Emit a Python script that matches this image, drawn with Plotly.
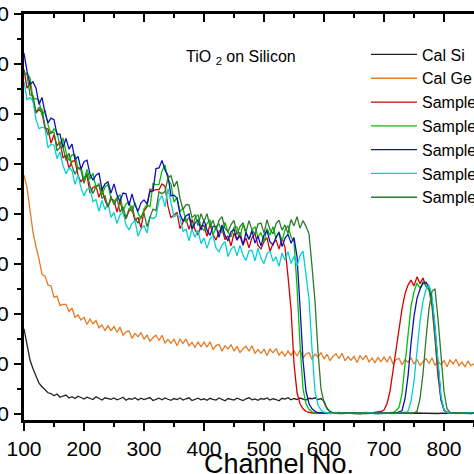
import plotly.graph_objects as go

channels = list(range(100, 851, 5))

cal_si = [
    340, 270, 215, 180, 152, 122, 108, 97, 84, 81,
    72, 79, 66, 71, 75, 63, 68, 61, 70, 65,
    59, 66, 62, 57, 68, 60, 55, 64, 61, 58,
    63, 56, 60, 66, 54, 61, 58, 64, 55, 62,
    57, 60, 65, 53, 59, 62, 56, 63, 58, 54,
    61, 57, 63, 55, 60, 64, 53, 59, 62, 56,
    60, 54, 62, 58, 55, 63, 59, 52, 61, 57,
    55, 62, 58, 53, 60, 64, 56, 59, 54, 61,
    58, 63, 55, 60, 57, 52, 62, 59, 64, 56,
    61, 57, 63, 58, 55, 62, 60, 64, 57, 61,
    50, 22, 8, 4, 2, 3, 1, 2, 3, 2,
    1, 2, 3, 2, 1, 2, 2, 3, 1, 2,
    2, 1, 2, 3, 2, 1, 2, 2, 3, 1,
    2, 3, 1, 2, 2, 1, 3, 2, 1, 2,
    2, 1, 2, 3, 1, 2, 2, 1, 3, 2,
    2,
]

cal_ge = [
    955, 905, 816, 726, 668, 620, 558, 551, 515, 512,
    467, 471, 433, 438, 438, 409, 423, 386, 395, 375,
    386, 357, 379, 360, 373, 344, 355, 333, 352, 333,
    349, 326, 347, 314, 328, 332, 302, 322, 308, 325,
    298, 316, 290, 305, 314, 293, 314, 283, 297, 282,
    298, 272, 298, 282, 299, 272, 286, 266, 287, 269,
    287, 266, 288, 257, 273, 278, 250, 272, 259, 277,
    251, 270, 245, 260, 270, 250, 272, 242, 257, 242,
    258, 233, 259, 244, 261, 235, 249, 230, 251, 234,
    252, 231, 254, 223, 239, 245, 217, 239, 227, 245,
    219, 238, 213, 230, 240, 220, 242, 212, 228, 214,
    230, 205, 232, 217, 234, 208, 223, 204, 225, 209,
    227, 206, 230, 199, 216, 222, 195, 217, 206, 224,
    199, 218, 194, 210, 221, 201, 224, 194, 210, 196,
    213, 188, 215, 200, 218, 192, 207, 188, 210, 193,
    200,
]

sample_1 = [
    1378, 1303, 1321, 1252, 1203, 1217, 1206, 1143, 1140, 1083,
    1117, 1072, 1089, 1024, 1035, 982, 1010, 1013, 954, 928,
    946, 952, 884, 906, 912, 866, 901, 854, 828, 859,
    855, 807, 852, 806, 780, 812, 820, 773, 786, 744,
    811, 829, 899, 893, 897, 897, 920, 911, 830, 784,
    797, 805, 741, 767, 779, 738, 778, 737, 716, 752,
    753, 710, 759, 717, 695, 730, 741, 697, 712, 672,
    723, 694, 727, 677, 703, 664, 705, 721, 674, 660,
    689, 705, 649, 680, 697, 659, 704, 665, 550, 420,
    200, 85, 40, 20, 9, 5, 3, 4, 2, 3,
    2, 4, 1, 3, 2, 5, 2, 1, 3, 2,
    4, 2, 1, 3, 5, 2, 3, 4, 6, 9,
    15, 40, 90, 170, 260, 350, 420, 480, 515, 535,
    512, 548, 521, 543, 509, 497, 430, 300, 150, 55,
    15, 6, 3, 2, 4, 1, 3, 2, 4, 2,
    2,
]

sample_2 = [
    1366, 1362, 1345, 1259, 1262, 1254, 1193, 1216, 1157, 1120,
    1140, 1126, 1068, 1104, 1048, 1013, 1037, 1036, 981, 986,
    936, 978, 939, 963, 904, 922, 875, 908, 917, 863,
    843, 866, 876, 813, 839, 849, 807, 846, 803, 781,
    819, 838, 828, 921, 917, 918, 972, 996, 935, 919,
    847, 866, 809, 824, 766, 787, 744, 783, 797, 748,
    733, 761, 776, 717, 747, 761, 723, 766, 727, 708,
    746, 748, 706, 758, 718, 698, 736, 749, 707, 725,
    687, 741, 714, 749, 701, 729, 692, 735, 753, 708,
    690, 510, 280, 100, 40, 18, 8, 3, 2, 3,
    2, 1, 3, 4, 2, 1, 3, 2, 4, 2,
    3, 1, 2, 4, 2, 3, 1, 2, 3, 2,
    3, 2, 4, 5, 12, 25, 80, 200, 330, 430,
    488, 523, 502, 528, 512, 497, 450, 320, 170, 60,
    15, 5, 3, 1, 2, 4, 2, 1, 3, 2,
    2,
]

sample_3 = [
    1443, 1371, 1319, 1329, 1303, 1238, 1266, 1205, 1164, 1183,
    1177, 1118, 1119, 1065, 1102, 1059, 1079, 1016, 1030, 979,
    1009, 1015, 958, 935, 955, 963, 897, 920, 928, 883,
    920, 875, 850, 883, 880, 833, 880, 835, 810, 844,
    856, 840, 889, 892, 981, 984, 1014, 976, 954, 872,
    875, 863, 798, 771, 792, 800, 737, 764, 776, 735,
    776, 735, 714, 750, 750, 706, 756, 714, 692, 728,
    739, 696, 713, 674, 726, 698, 732, 683, 710, 672,
    715, 733, 688, 676, 707, 725, 669, 702, 719, 683,
    705, 630, 430, 215, 90, 40, 20, 10, 4, 3,
    1, 3, 2, 4, 2, 1, 3, 2, 2, 4,
    2, 3, 1, 2, 4, 2, 3, 1, 2, 3,
    3, 2, 3, 2, 4, 8, 12, 60, 150, 280,
    390, 462, 498, 522, 526, 508, 460, 340, 180, 60,
    15, 5, 3, 2, 1, 3, 2, 4, 2, 1,
    3,
]

sample_4 = [
    1329, 1257, 1265, 1253, 1178, 1141, 1147, 1143, 1065, 1078,
    1075, 1021, 1048, 994, 960, 984, 973, 918, 957, 904,
    872, 899, 901, 849, 857, 810, 854, 817, 843, 786,
    806, 761, 796, 807, 755, 736, 761, 773, 711, 739,
    754, 723, 788, 781, 789, 854, 873, 828, 901, 837,
    788, 797, 786, 730, 739, 692, 739, 706, 735, 681,
    704, 662, 700, 713, 664, 648, 675, 689, 629, 658,
    671, 632, 674, 634, 614, 652, 654, 612, 663, 622,
    601, 639, 652, 610, 628, 590, 643, 615, 649, 601,
    629, 592, 633, 651, 560, 460, 260, 90, 35, 15,
    6, 3, 1, 3, 2, 4, 2, 1, 3, 2,
    2, 4, 1, 2, 3, 2, 4, 1, 2, 3,
    2, 3, 1, 3, 2, 3, 4, 6, 10, 50,
    130, 250, 370, 450, 498, 516, 470, 350, 190, 70,
    15, 5, 3, 2, 4, 1, 2, 3, 2, 1,
    2,
]

sample_5 = [
    1359, 1359, 1276, 1274, 1207, 1225, 1218, 1151, 1117, 1128,
    1126, 1052, 1067, 1067, 1014, 1043, 991, 959, 985, 975,
    922, 963, 912, 882, 910, 914, 863, 872, 826, 871,
    836, 863, 807, 828, 784, 820, 832, 781, 763, 789,
    803, 749, 787, 819, 813, 888, 881, 889, 944, 953,
    908, 931, 862, 818, 837, 836, 785, 796, 753, 801,
    770, 801, 749, 774, 734, 774, 789, 742, 728, 757,
    774, 717, 749, 765, 728, 773, 736, 719, 759, 763,
    723, 776, 738, 720, 760, 775, 735, 756, 721, 777,
    752, 789, 743, 773, 750, 720, 590, 450, 250, 100,
    45, 20, 10, 4, 2, 3, 1, 2, 4, 2,
    3, 1, 2, 4, 2, 3, 2, 1, 3, 2,
    2, 4, 2, 1, 3, 2, 4, 2, 3, 1,
    4, 10, 60, 160, 300, 420, 490, 500, 380, 220,
    90, 20, 5, 3, 1, 3, 2, 4, 2, 1,
    2,
]

series_names = ["Cal Si", "Cal Ge", "Sample 1", "Sample 2", "Sample 3", "Sample 4", "Sample 5"]
series_values = [cal_si, cal_ge, sample_1, sample_2, sample_3, sample_4, sample_5]
series_colors = ["#222222", "#e57a24", "#d40000", "#00c000", "#1010b8", "#00d2d2", "#2c7a2c"]

x_ticks = [100, 200, 300, 400, 500, 600, 700, 800]
y_ticks = [0, 200, 400, 600, 800, 1000, 1200, 1400, 1600]

FONT = "Arial, Liberation Sans, sans-serif"

fig = go.Figure()
for i, (name, vals, col) in enumerate(zip(series_names, series_values, series_colors)):
    # the last series is drawn on the top (mirror) x axis, which matches the bottom one
    xa = "x2" if i == len(series_names) - 1 else "x"
    fig.add_trace(go.Scatter(x=channels, y=vals, mode="lines", name=name,
                             xaxis=xa, yaxis="y",
                             line=dict(color=col, width=1.3)))

fig.update_layout(
    template="none",
    width=474, height=474,
    margin=dict(l=24, r=0, t=14, b=54, autoexpand=False),
    paper_bgcolor="white", plot_bgcolor="white",
    font=dict(family=FONT, color="black"),
    showlegend=True,
    legend=dict(x=0.76, y=0.942, xanchor="left", yanchor="top",
                font=dict(size=16, family=FONT, color="black"),
                bgcolor="rgba(0,0,0,0)", itemwidth=46, tracegroupgap=0),
    xaxis=dict(range=[100, 850], tickvals=x_ticks, showline=True, linewidth=3,
               linecolor="black", ticks="outside", ticklen=8, tickwidth=2,
               tickcolor="black", tickfont=dict(size=21, family=FONT),
               showgrid=False, zeroline=False, automargin=False,
               minor=dict(ticks="outside", ticklen=4, tickwidth=2, tickcolor="black",
                          dtick=50, tick0=100, showgrid=False)),
    xaxis2=dict(range=[100, 850], matches="x", overlaying="x", side="top", anchor="y",
                showline=True, linewidth=3, linecolor="black",
                ticks="inside", ticklen=8, tickwidth=2, tickcolor="black",
                tickvals=x_ticks, showticklabels=False, showgrid=False,
                zeroline=False, automargin=False,
                minor=dict(ticks="inside", ticklen=4, tickwidth=2, tickcolor="black",
                           dtick=50, tick0=100, showgrid=False)),
    yaxis=dict(range=[-25, 1600], tickvals=y_ticks, showline=True, linewidth=3,
               linecolor="black", ticks="outside", ticklen=7, tickwidth=2,
               tickcolor="black", tickfont=dict(size=21, family=FONT),
               ticklabelstandoff=1,
               showgrid=False, zeroline=False, automargin=False,
               minor=dict(ticks="outside", ticklen=4, tickwidth=2, tickcolor="black",
                          dtick=100, tick0=0, showgrid=False)),
    annotations=[
        dict(text="TiO <sub>2</sub> on Silicon", x=0.483, y=0.922, xref="paper",
             yref="paper", showarrow=False, font=dict(size=16, family=FONT)),
        dict(text="Channel No.", x=0.567, y=-0.066, xref="paper", yref="paper",
             xanchor="center", yanchor="top", showarrow=False,
             font=dict(size=27, family=FONT)),
    ],
)

fig.write_html("out.html")
